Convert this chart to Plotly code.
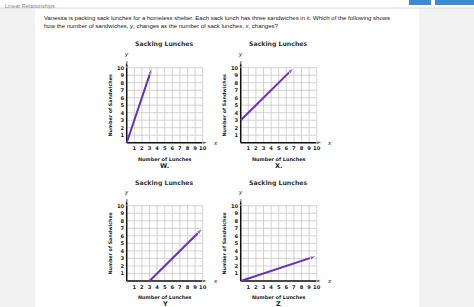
import plotly.graph_objects as go

W, H = 474, 307

# ---- data ----
chart_labels = ["W.", "X.", "Y", "Z"]
chart_title = "Sacking Lunches"
x_title = "Number of Lunches"
y_title = "Number of Sandwiches"
tick_vals = [1, 2, 3, 4, 5, 6, 7, 8, 9, 10]
w_x = [0, 3.33]; w_y = [0, 10]
x_x = [0, 7];    x_y = [3, 10]
y_x = [3, 10];   y_y = [0, 7]
z_x = [0, 10];   z_y = [0, 3.33]
series = [(w_x, w_y), (x_x, x_y), (y_x, y_y), (z_x, z_y)]
question = ("Vanessa is packing sack lunches for a homeless shelter. Each sack lunch has three sandwiches in it. "
            "Which of the following shows<br>how the number of sandwiches, <i>y</i>, changes as the number of sack lunches, <i>x</i>, changes?")

# ---- layout geometry (pixels) ----
geo = [(126.7, 142.7, 7.6, 7.5), (240.7, 142.7, 7.6, 7.5),
       (126.7, 281.0, 7.6, 7.53), (240.7, 281.0, 7.6, 7.53)]
XR = [-0.2, 11.4]
YR = [-0.2, 11.2]
PURPLE = "#6a2fb8"
FONT = "DejaVu Sans"

fig = go.Figure()
shapes = []
annotations = []

shapes.append(dict(type="rect", xref="paper", yref="paper", x0=0, x1=35/W, y0=0, y1=1-8/H,
                   fillcolor="#f2f2f2", line_width=0, layer="below"))
shapes.append(dict(type="rect", xref="paper", yref="paper", x0=419/W, x1=1, y0=0, y1=1-8/H,
                   fillcolor="#f2f2f2", line_width=0, layer="below"))
shapes.append(dict(type="line", xref="paper", yref="paper", x0=0, x1=1, y0=1-8/H, y1=1-8/H,
                   line=dict(color="#d8d8d8", width=1)))
shapes.append(dict(type="rect", xref="paper", yref="paper", x0=409/W, x1=431/W, y0=1-5/H, y1=1.05,
                   fillcolor="#3d8ad8", line_width=0))
shapes.append(dict(type="rect", xref="paper", yref="paper", x0=435/W, x1=1.01, y0=1-5/H, y1=1.05,
                   fillcolor="#3d8ad8", line_width=0))
annotations.append(dict(xref="paper", yref="paper", x=3/W, y=1-0.5/H, xanchor="left", yanchor="top",
                        text="Linear Relationships", showarrow=False,
                        font=dict(family="Liberation Sans", size=5.5, color="#888")))
annotations.append(dict(xref="paper", yref="paper", x=42/W, y=1-12.5/H, xanchor="left", yanchor="top",
                        text=question, showarrow=False, align="left",
                        font=dict(family="Liberation Sans", size=6.0, color="#222")))

for i, ((ox, oy, sx, sy), (lx, ly), lab) in enumerate(zip(geo, series, chart_labels)):
    n = "" if i == 0 else str(i + 1)
    xa, ya = "x" + n, "y" + n
    left = ox + XR[0] * sx
    right = ox + XR[1] * sx
    bottom = oy - YR[0] * sy
    top = oy - YR[1] * sy
    tf = dict(family=FONT, size=5.2, color="#222", weight="bold")
    fig.update_layout(**{
        "xaxis" + n: dict(domain=[left / W, right / W], range=XR, anchor=ya, showgrid=False,
                          zeroline=False, showline=False, ticks="", tickvals=tick_vals,
                          tickangle=0, tickfont=tf, fixedrange=True),
        "yaxis" + n: dict(domain=[1 - bottom / H, 1 - top / H], range=YR, anchor=xa, showgrid=False,
                          zeroline=False, showline=False, ticks="", tickvals=tick_vals,
                          tickangle=0, tickfont=tf, fixedrange=True),
    })
    for t in [0] + tick_vals:
        shapes.append(dict(type="line", xref=xa, yref=ya, x0=t, x1=t, y0=0, y1=10,
                           line=dict(color="#c8c8c8", width=0.8), layer="below"))
        shapes.append(dict(type="line", xref=xa, yref=ya, x0=0, x1=10, y0=t, y1=t,
                           line=dict(color="#c8c8c8", width=0.8), layer="below"))
    fig.add_trace(go.Scatter(x=[0, 10.75], y=[0, 0], xaxis=xa, yaxis=ya, mode="lines+markers",
                             line=dict(color="#111", width=1.5), cliponaxis=False,
                             marker=dict(symbol="arrow", angleref="previous", size=[0, 6], color="#111"),
                             hoverinfo="skip", showlegend=False))
    fig.add_trace(go.Scatter(x=[0, 0], y=[0, 10.85], xaxis=xa, yaxis=ya, mode="lines+markers",
                             line=dict(color="#111", width=1.5), cliponaxis=False,
                             marker=dict(symbol="arrow", angleref="previous", size=[0, 6], color="#111"),
                             hoverinfo="skip", showlegend=False))
    fig.add_trace(go.Scatter(x=lx, y=ly, xaxis=xa, yaxis=ya, mode="lines+markers",
                             line=dict(color=PURPLE, width=2), cliponaxis=False,
                             marker=dict(symbol="arrow", angleref="previous", size=[0, 7], color=PURPLE),
                             hoverinfo="skip", showlegend=False))
    annotations.append(dict(xref=xa, yref=ya, x=11.15, y=0, text="<i>x</i>", showarrow=False,
                            xanchor="left", yanchor="middle", font=dict(family=FONT, size=5.5, color="#111")))
    annotations.append(dict(xref=xa, yref=ya, x=0, y=11.0, text="<i>y</i>", showarrow=False,
                            xanchor="center", yanchor="bottom", font=dict(family=FONT, size=5.5, color="#111")))
    cx = (ox + 5 * sx) / W
    annotations.append(dict(xref="paper", yref="paper", x=cx, y=1 - (oy - 98.5) / H, text="<b>" + chart_title + "</b>",
                            showarrow=False, xanchor="center", yanchor="middle",
                            font=dict(family=FONT, size=6.2, color="#333")))
    annotations.append(dict(xref="paper", yref="paper", x=cx, y=1 - (oy + 16.3) / H, text="<b>" + x_title + "</b>",
                            showarrow=False, xanchor="center", yanchor="middle",
                            font=dict(family=FONT, size=4.9, color="#222")))
    annotations.append(dict(xref="paper", yref="paper", x=cx, y=1 - (oy + 22.8) / H, text="<b>" + lab + "</b>",
                            showarrow=False, xanchor="center", yanchor="middle",
                            font=dict(family=FONT, size=6.5, color="#222")))
    annotations.append(dict(xref="paper", yref="paper", x=(ox - 16.5) / W, y=1 - (oy - 5 * sy) / H,
                            text="<b>" + y_title + "</b>", textangle=-90,
                            showarrow=False, xanchor="center", yanchor="middle",
                            font=dict(family=FONT, size=4.8, color="#222")))

fig.update_layout(width=W, height=H, margin=dict(l=0, r=0, t=0, b=0),
                  paper_bgcolor="white", plot_bgcolor="rgba(0,0,0,0)",
                  shapes=shapes, annotations=annotations, showlegend=False)
fig.write_html("out.html", config={"displayModeBar": False})
